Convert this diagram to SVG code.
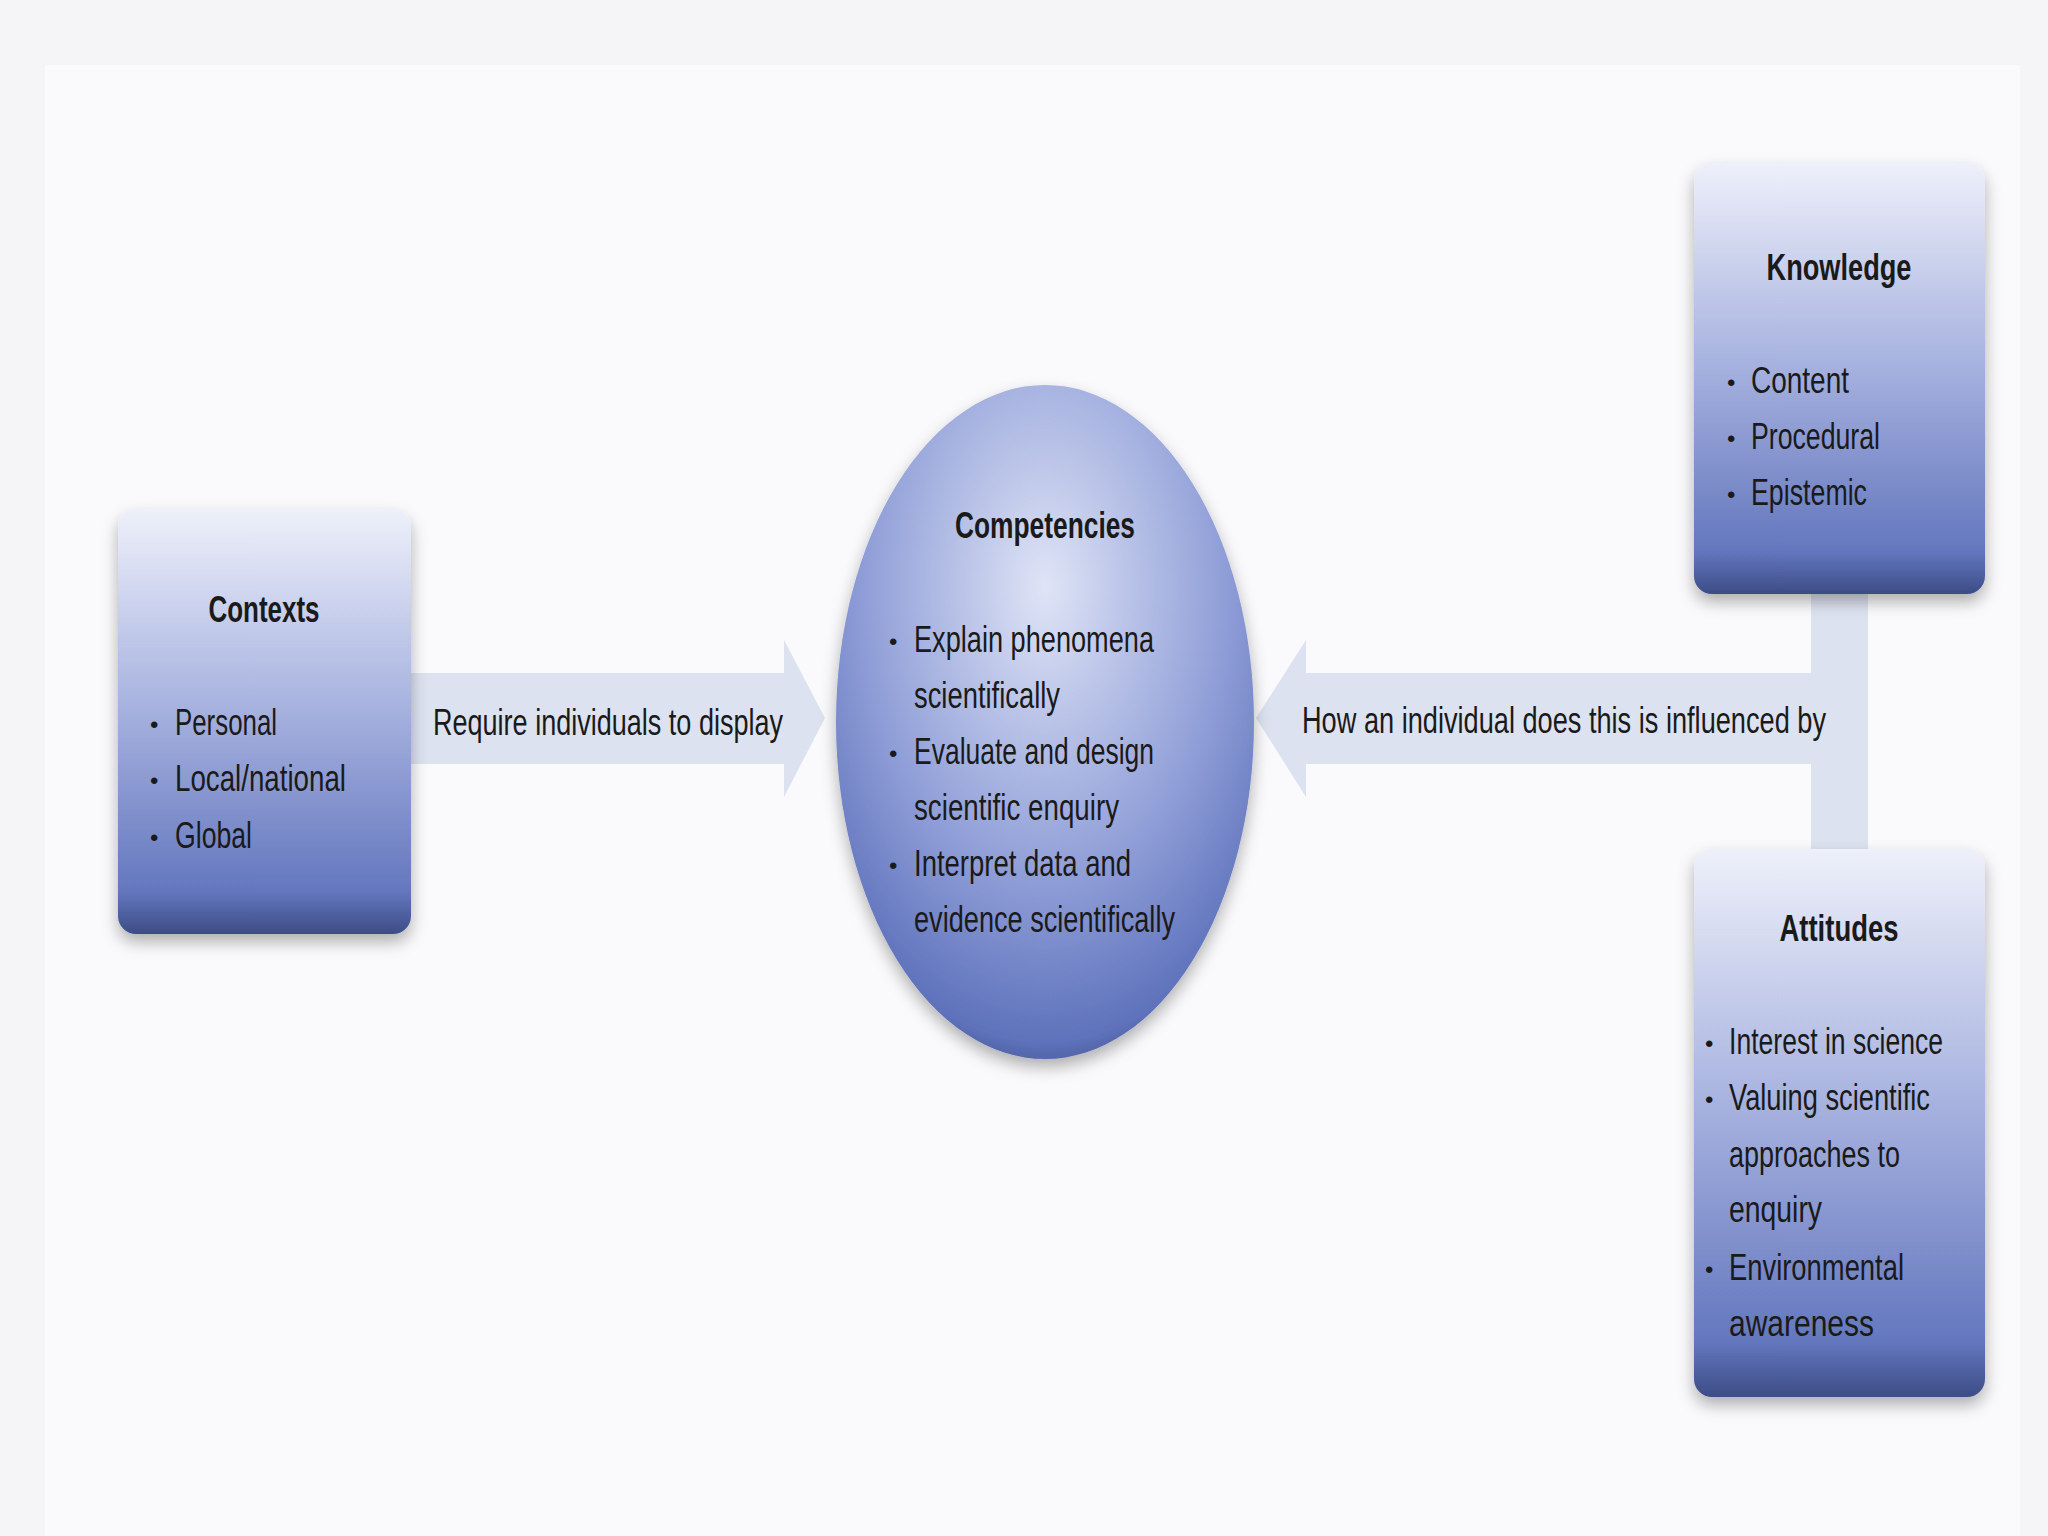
<svg xmlns="http://www.w3.org/2000/svg" width="2048" height="1536" viewBox="0 0 2048 1536">
<defs>
<linearGradient id="g" x1="0" y1="0" x2="0" y2="1">
<stop offset="0" stop-color="#eef0fa"/><stop offset="0.45" stop-color="#a9b4e0"/><stop offset="0.9" stop-color="#6477be"/><stop offset="1" stop-color="#3c4c86"/>
</linearGradient>
<radialGradient id="rg" cx="0.5" cy="0.3" r="0.75">
<stop offset="0" stop-color="#dfe4f6"/><stop offset="0.6" stop-color="#8c9bd6"/><stop offset="0.9" stop-color="#5e72bb"/><stop offset="1" stop-color="#3c4c86"/>
</radialGradient>
<filter id="sh" x="-20%" y="-20%" width="140%" height="140%"><feDropShadow dx="0" dy="8" stdDeviation="8" flood-color="#000" flood-opacity="0.3"/></filter>
<style>
text{font-family:"Liberation Sans",Arial,sans-serif;fill:#1a1a1a;font-size:36px}
.t{font-weight:bold;text-anchor:middle}
.b{font-size:24px}
.arr{fill:#dde2f0}
</style>
</defs>
<rect width="2048" height="1536" fill="#f5f5f7"/>
<rect x="45" y="65" width="1975" height="1471" fill="#fafafc"/>
<g id="connectors">
<polygon class="arr" points="411,673 784,673 784,640 825,718 784,797 784,764 411,764"/>
<polygon class="arr" points="1256,718 1306,640 1306,673 1811,673 1811,594 1868,594 1868,849 1811,849 1811,764 1306,764 1306,797"/>
<text x="433" y="735" textLength="350" lengthAdjust="spacingAndGlyphs">Require individuals to display</text>
<text x="1302" y="733" textLength="524" lengthAdjust="spacingAndGlyphs">How an individual does this is influenced by</text>
</g>
<g id="contexts">
<rect x="118" y="509" width="293" height="425" rx="18" fill="url(#g)" filter="url(#sh)"/>
<text class="t" x="264" y="622" textLength="111" lengthAdjust="spacingAndGlyphs">Contexts</text>
<text class="b" x="150" y="733">•</text><text x="175" y="735" textLength="102" lengthAdjust="spacingAndGlyphs">Personal</text>
<text class="b" x="150" y="789">•</text><text x="175" y="791" textLength="171" lengthAdjust="spacingAndGlyphs">Local/national</text>
<text class="b" x="150" y="846">•</text><text x="175" y="848" textLength="77" lengthAdjust="spacingAndGlyphs">Global</text>
</g>
<g id="competencies">
<ellipse cx="1045" cy="722" rx="209" ry="337" fill="url(#rg)" filter="url(#sh)"/>
<text class="t" x="1045" y="538" textLength="180" lengthAdjust="spacingAndGlyphs">Competencies</text>
<text class="b" x="889" y="650">•</text><text x="914" y="652" textLength="240" lengthAdjust="spacingAndGlyphs">Explain phenomena</text>
<text x="914" y="708" textLength="146" lengthAdjust="spacingAndGlyphs">scientifically</text>
<text class="b" x="889" y="762">•</text><text x="914" y="764" textLength="240" lengthAdjust="spacingAndGlyphs">Evaluate and design</text>
<text x="914" y="820" textLength="205" lengthAdjust="spacingAndGlyphs">scientific enquiry</text>
<text class="b" x="889" y="874">•</text><text x="914" y="876" textLength="217" lengthAdjust="spacingAndGlyphs">Interpret data and</text>
<text x="914" y="932" textLength="261" lengthAdjust="spacingAndGlyphs">evidence scientifically</text>
</g>
<g id="knowledge">
<rect x="1694" y="163" width="291" height="431" rx="18" fill="url(#g)" filter="url(#sh)"/>
<text class="t" x="1839" y="280" textLength="145" lengthAdjust="spacingAndGlyphs">Knowledge</text>
<text class="b" x="1727" y="391">•</text><text x="1751" y="393" textLength="98" lengthAdjust="spacingAndGlyphs">Content</text>
<text class="b" x="1727" y="447">•</text><text x="1751" y="449" textLength="129" lengthAdjust="spacingAndGlyphs">Procedural</text>
<text class="b" x="1727" y="503">•</text><text x="1751" y="505" textLength="116" lengthAdjust="spacingAndGlyphs">Epistemic</text>
</g>
<g id="attitudes">
<rect x="1694" y="849" width="291" height="548" rx="18" fill="url(#g)" filter="url(#sh)"/>
<text class="t" x="1839" y="941" textLength="119" lengthAdjust="spacingAndGlyphs">Attitudes</text>
<text class="b" x="1705" y="1052">•</text><text x="1729" y="1054" textLength="214" lengthAdjust="spacingAndGlyphs">Interest in science</text>
<text class="b" x="1705" y="1108">•</text><text x="1729" y="1110" textLength="201" lengthAdjust="spacingAndGlyphs">Valuing scientific</text>
<text x="1729" y="1167" textLength="171" lengthAdjust="spacingAndGlyphs">approaches to</text>
<text x="1729" y="1222" textLength="93" lengthAdjust="spacingAndGlyphs">enquiry</text>
<text class="b" x="1705" y="1278">•</text><text x="1729" y="1280" textLength="175" lengthAdjust="spacingAndGlyphs">Environmental</text>
<text x="1729" y="1336" textLength="145" lengthAdjust="spacingAndGlyphs">awareness</text>
</g>
</svg>
